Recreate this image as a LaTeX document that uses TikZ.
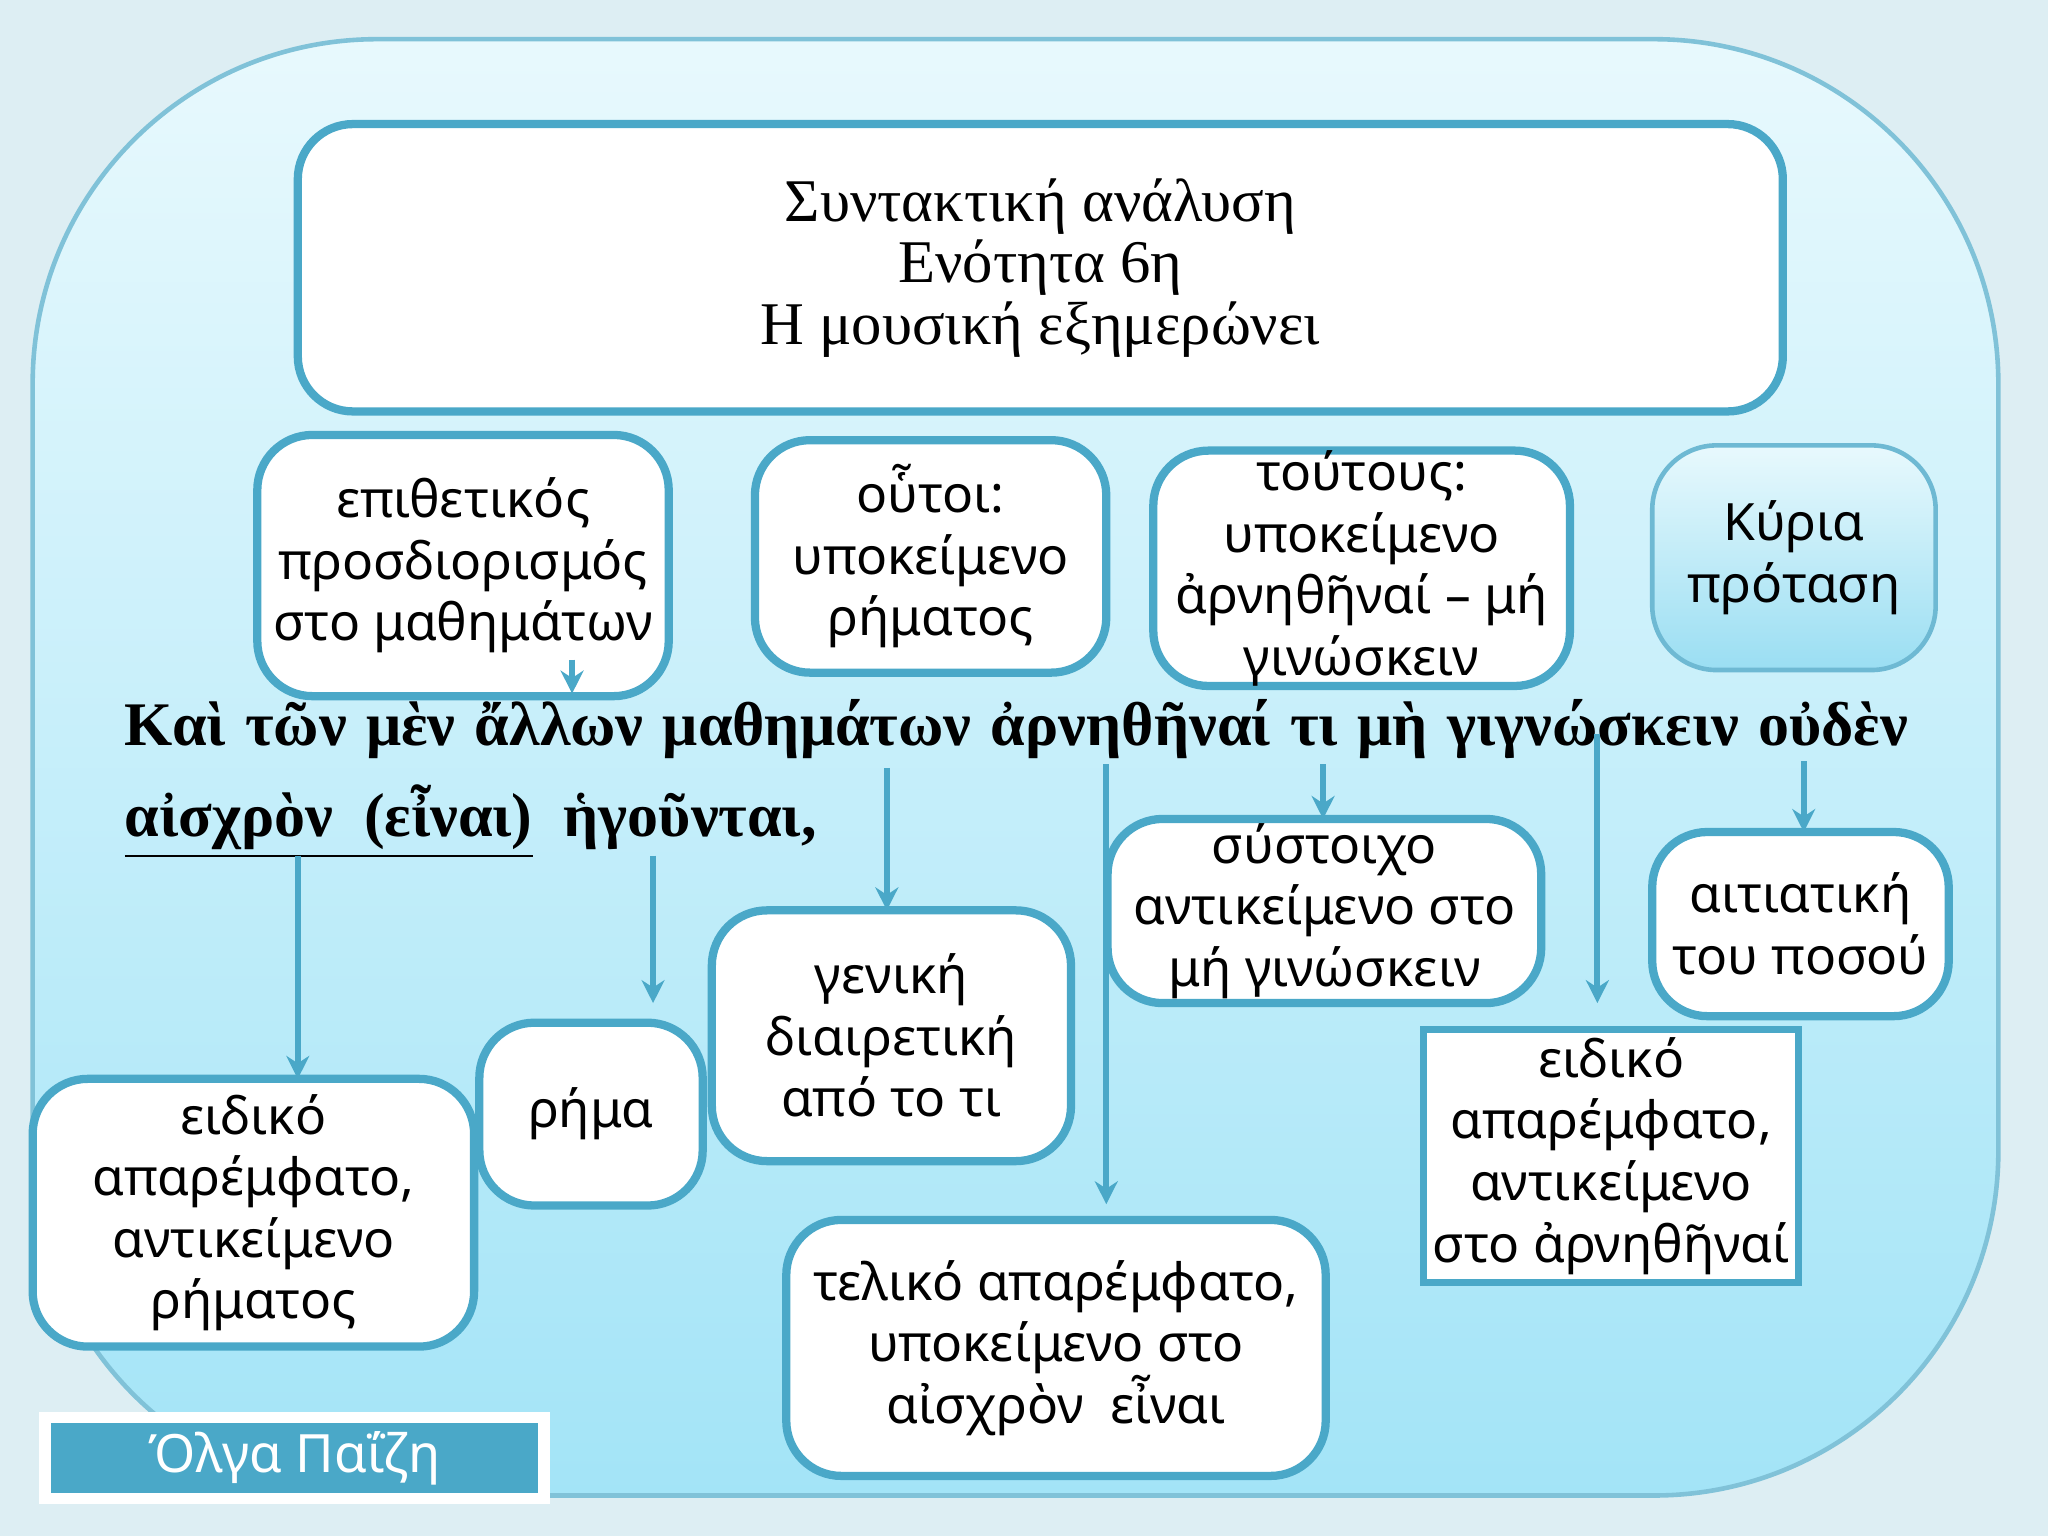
\documentclass[tikz,border=0pt]{standalone}
\usepackage{fontspec}
\setmainfont{DejaVu Serif}
\newfontfamily\boxfont{Noto Sans}
\newfontfamily\titlefont{Liberation Serif}
\newfontfamily\sentfont{Liberation Serif}
\usetikzlibrary{arrows.meta}
\definecolor{pagebg}{HTML}{DDEEF3}
\definecolor{frame}{HTML}{4AA8C8}
\definecolor{topc}{HTML}{E8F9FD}
\definecolor{botc}{HTML}{A3E4F7}
\tikzset{
 bx/.style={draw=frame,line width=1.8pt,fill=white,rounded corners=12pt,align=center,
  font=\boxfont\fontsize{11.2}{13.4}\selectfont,inner sep=0pt,outer sep=0pt},
 arr/.style={draw=frame,line width=1.3pt,-{Stealth[length=5pt,width=5pt]}},
}
\newcommand{\boxat}[6]{\node[bx,minimum width=#4*0.01cm-#2*0.01cm,minimum height=#5*0.01cm-#3*0.01cm,anchor=north west] (#1) at (#2,#3) {#6};}
\begin{document}
\begin{tikzpicture}[x=0.01cm,y=-0.01cm]
\fill[pagebg] (0,0) rectangle (1568,1176);
\useasboundingbox (0,0) rectangle (1568,1176);
\shade[top color=topc,bottom color=botc,rounded corners=75pt] (25,30) rectangle (1530,1145);
\draw[frame!70,line width=1pt,rounded corners=75pt] (25,30) rectangle (1530,1145);
\node[bx,minimum width=1137*0.01cm,minimum height=220*0.01cm,anchor=north west,font=\titlefont\fontsize{13.2}{13.4}\selectfont] (title) at (228,95) {Συντακτική ανάλυση\\Ενότητα 6η\\Η μουσική εξημερώνει};
\boxat{b1}{197}{333}{512}{533}{επιθετικός\\προσδιορισμός\\στο μαθημάτων}
\boxat{b2}{578}{337}{847}{515}{οὗτοι:\\υποκείμενο\\ρήματος}
\boxat{b3}{883}{345}{1202}{523}{τούτους:\\υποκείμενο\\ἀρνηθῆναί – μή\\γινώσκειν}
\node[draw=frame!80,line width=1pt,top color=topc,bottom color=botc!90!frame,rounded corners=14pt,align=center,font=\boxfont\fontsize{11.2}{13.4}\selectfont,minimum width=217*0.01cm,minimum height=172*0.01cm,anchor=north west,outer sep=0pt] (b4) at (1265,341) {Κύρια\\πρόταση};
\boxat{b5}{848}{627}{1180}{768}{σύστοιχο\\αντικείμενο στο\\μή γινώσκειν}
\boxat{b6}{1265}{637}{1492}{778}{αιτιατική\\του ποσού}
\boxat{b7}{25}{826}{363}{1031}{ειδικό\\απαρέμφατο,\\αντικείμενο\\ρήματος}
\boxat{b8}{367}{783}{538}{923}{ρήμα}
\boxat{b9}{545}{697}{820}{889}{γενική\\διαιρετική\\από το τι}
\boxat{b10}{602}{934}{1015}{1130}{τελικό απαρέμφατο,\\υποκείμενο στο\\αἰσχρὸν\ \ εἶναι}
\node[bx,rounded corners=0pt,line width=1.5pt,minimum width=287*0.01cm,minimum height=194*0.01cm,anchor=north west] (b11) at (1090,788) {ειδικό\\απαρέμφατο,\\αντικείμενο\\στο ἀρνηθῆναί};
\node[draw=white,line width=2.5pt,fill=frame,text=white,font=\boxfont\fontsize{11.5}{13}\selectfont,minimum width=382*0.01cm,minimum height=62*0.01cm,anchor=north west,inner sep=0pt] (auth) at (30,1081) {Όλγα Παΐζη};
\node[anchor=west,inner sep=0pt,font=\sentfont\bfseries\fontsize{13.5}{16}\selectfont] (s1) at (95,558) {\hbox to 1365\dimexpr0.01cm\relax{Καὶ\hfill τῶν\hfill μὲν\hfill ἄλλων\hfill μαθημάτων\hfill ἀρνηθῆναί\hfill τι\hfill μὴ\hfill γιγνώσκειν\hfill οὐδὲν}};
\node[anchor=west,inner sep=0pt,font=\sentfont\bfseries\fontsize{13.5}{16}\selectfont] (s2) at (95,629) {\underline{αἰσχρὸν\ \ (εἶναι)}\ \ ἡγοῦνται,};
\coordinate (c1) at (438,505); \coordinate (c1e) at (438,531);
\coordinate (c2) at (228,655);
\coordinate (c3) at (500,655); \coordinate (c3e) at (500,768);
\coordinate (c4) at (679,588);
\coordinate (c5) at (847,585); \coordinate (c5e) at (847,922);
\coordinate (c6) at (1013,585);
\coordinate (c7) at (1223,562); \coordinate (c7e) at (1223,768);
\coordinate (c8) at (1381,583);
\draw[arr] (c1) -- (c1e);
\draw[arr] (c2) -- (c2 |- b7.north);
\draw[arr] (c3) -- (c3e);
\draw[arr] (c4) -- (c4 |- b9.north);
\draw[arr] (c5) -- (c5e);
\draw[arr] (c6) -- (c6 |- b5.north);
\draw[arr] (c7) -- (c7e);
\draw[arr] (c8) -- (c8 |- b6.north);
\end{tikzpicture}
\end{document}
